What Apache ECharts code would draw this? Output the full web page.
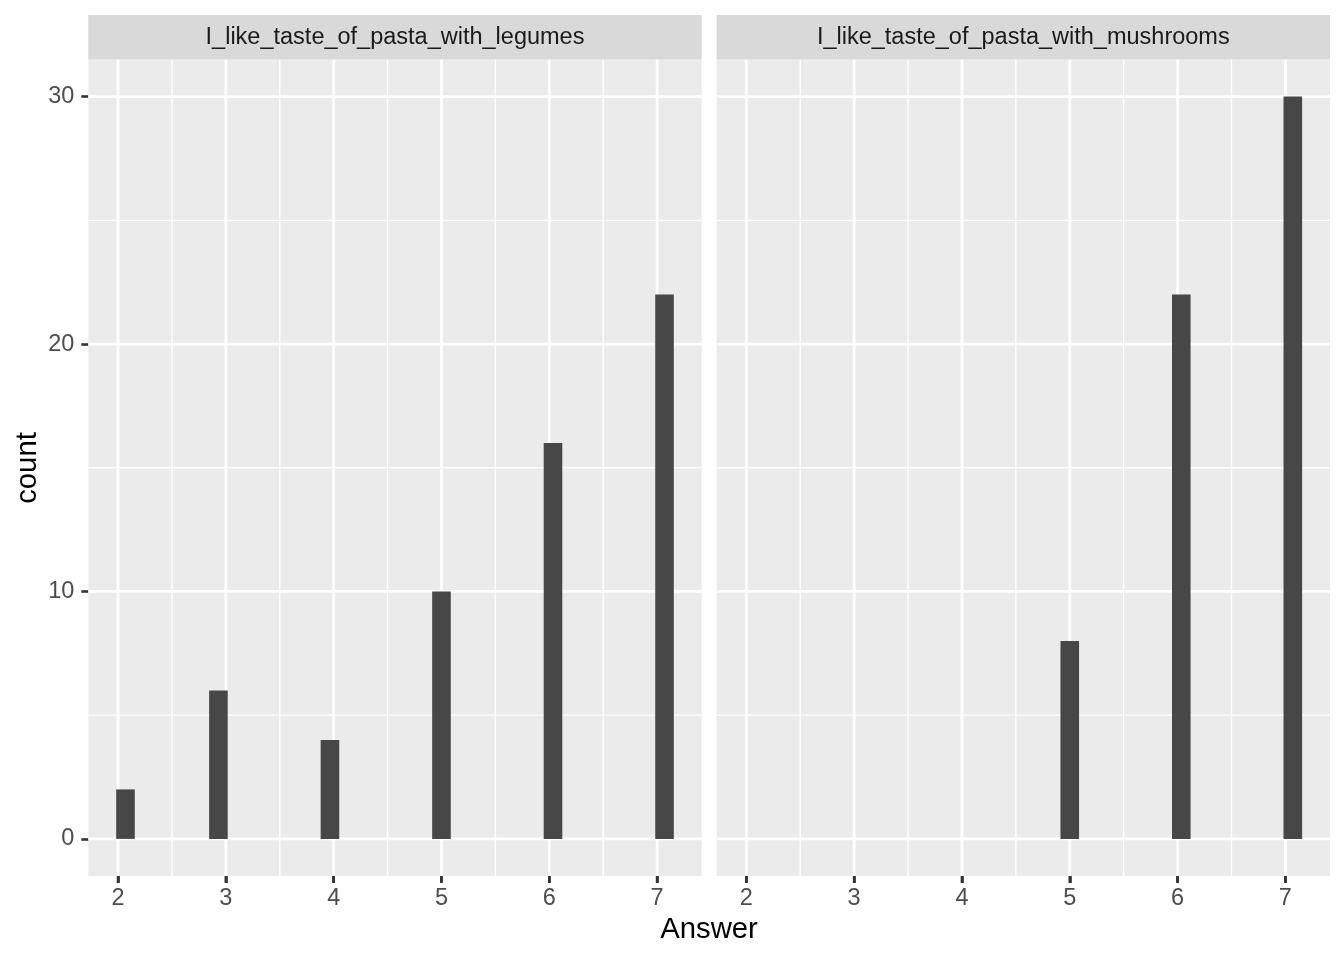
<!DOCTYPE html>
<html>
<head>
<meta charset="utf-8">
<script src="https://cdn.jsdelivr.net/npm/echarts@6.0.0/dist/echarts.min.js"></script>
<style>
html,body{margin:0;padding:0;background:#fff;}
#chart{width:1344px;height:960px;}
</style>
</head>
<body>
<div id="chart"></div>
<script>
// ---- data ----
const answers = [2, 3, 4, 5, 6, 7];
const panelTitles = ['I_like_taste_of_pasta_with_legumes', 'I_like_taste_of_pasta_with_mushrooms'];
const legumesCounts = [2, 6, 4, 10, 16, 22];
const mushroomsCounts = [0, 0, 0, 8, 22, 30];
const xTicks = [2, 3, 4, 5, 6, 7];
const xMinorTicks = [2.5, 3.5, 4.5, 5.5, 6.5];
const yTicks = [0, 10, 20, 30];
const yMinorTicks = [5, 15, 25];

// ---- ggplot-like histogram binning (bins = 30) ----
const bins = 30;
const xr = [Math.min(...answers), Math.max(...answers)];
const bw = (xr[1] - xr[0]) / (bins - 1);
const boundary = bw / 2;
const shift = Math.floor((xr[0] - boundary) / bw);
const origin = boundary + shift * bw;
const maxX = xr[1] + (1 - 1e-8) * bw;
const nBreaks = Math.floor((maxX - origin) / bw + 1e-9);
const lastBreak = origin + nBreaks * bw;
const span = lastBreak - origin;
const xMin = origin - 0.05 * span;
const xMax = lastBreak + 0.05 * span;
const yMaxData = Math.max(...legumesCounts, ...mushroomsCounts);
const yMin = -0.05 * yMaxData;
const yMax = yMaxData * 1.05;

function binData(counts) {
  const out = [];
  answers.forEach((a, i) => {
    if (counts[i] > 0) {
      const k = Math.ceil((a - origin) / bw - 1e-7) - 1;
      out.push([origin + k * bw, origin + (k + 1) * bw, counts[i]]);
    }
  });
  return out;
}

const panelLeft = [88.3, 716.6];
const panelW = 613.4;
const panelTop = 59.5;
const panelH = 816.5;
const stripTop = 15;
const stripH = 44.5;
const tickLen = 7;

const FONT = 'Liberation Sans, Arial, Helvetica, sans-serif';

const chart = echarts.init(document.getElementById('chart'), null, {renderer: 'canvas'});

function gridLineData() {
  const d = [];
  yMinorTicks.forEach(v => d.push([0, v, 0]));
  xMinorTicks.forEach(v => d.push([1, v, 0]));
  yTicks.forEach(v => d.push([0, v, 1]));
  xTicks.forEach(v => d.push([1, v, 1]));
  return d;
}

// white grid lines inside the panel, plus x tick marks hanging below it
function gridLinesSeries(idx) {
  return {
    type: 'custom',
    xAxisIndex: idx, yAxisIndex: idx,
    z: 1, silent: true, animation: false,
    clip: false,
    data: gridLineData(),
    encode: {x: -1, y: -1},
    renderItem: function (params, api) {
      const cs = params.coordSys;
      const horiz = api.value(0) === 0;
      const v = api.value(1);
      const major = api.value(2) === 1;
      if (horiz) {
        const y = api.coord([xMin, v])[1];
        return {
          type: 'line',
          shape: {x1: cs.x, y1: y, x2: cs.x + cs.width, y2: y},
          style: {stroke: '#FFFFFF', lineWidth: major ? 2.7 : 1.4}
        };
      }
      const x = api.coord([v, yMin])[0];
      const children = [{
        type: 'line',
        shape: {x1: x, y1: cs.y, x2: x, y2: cs.y + cs.height},
        style: {stroke: '#FFFFFF', lineWidth: major ? 2.7 : 1.4}
      }];
      if (major) {
        children.push({
          type: 'rect',
          shape: {x: x - 1.3, y: cs.y + cs.height, width: 2.6, height: tickLen},
          style: {fill: '#333333'}
        });
      }
      return {type: 'group', children: children};
    }
  };
}

function barSeries(idx, counts) {
  return {
    type: 'custom',
    xAxisIndex: idx, yAxisIndex: idx,
    z: 3,
    animation: false,
    data: binData(counts),
    encode: {x: [0, 1], y: 2},
    renderItem: function (params, api) {
      const p0 = api.coord([api.value(0), api.value(2)]);
      const p1 = api.coord([api.value(1), 0]);
      return {
        type: 'rect',
        shape: {x: p0[0], y: p0[1], width: p1[0] - p0[0], height: p1[1] - p0[1]},
        style: {fill: '#474747'}
      };
    }
  };
}

function xAxisCfg(idx) {
  return {
    type: 'value', gridIndex: idx, min: xMin, max: xMax, position: 'bottom',
    axisLine: {show: false, onZero: false},
    splitLine: {show: false},
    axisTick: {show: true, inside: false, customValues: xTicks, length: tickLen, lineStyle: {color: '#333333', width: 2.6}},
    axisLabel: {show: true, customValues: xTicks, color: '#4D4D4D', fontSize: 23.5, fontFamily: FONT, margin: 11}
  };
}

function yAxisCfg(idx) {
  return {
    type: 'value', gridIndex: idx, min: yMin, max: yMax, position: 'left',
    axisLine: {show: false, onZero: false},
    splitLine: {show: false},
    axisTick: {show: idx === 0, customValues: yTicks, length: tickLen, lineStyle: {color: '#333333', width: 2.6}},
    axisLabel: {show: idx === 0, customValues: yTicks, color: '#4D4D4D', fontSize: 23.5, fontFamily: FONT, margin: 14}
  };
}

const option = {
  backgroundColor: '#FFFFFF',
  animation: false,
  grid: [0, 1].map(i => ({
    left: panelLeft[i], top: panelTop, width: panelW, height: panelH,
    show: true, backgroundColor: '#EBEBEB', borderWidth: 0
  })),
  xAxis: [xAxisCfg(0), xAxisCfg(1)],
  yAxis: [yAxisCfg(0), yAxisCfg(1)],
  series: [
    gridLinesSeries(0), gridLinesSeries(1),
    barSeries(0, legumesCounts), barSeries(1, mushroomsCounts)
  ],
  graphic: [
    ...[0, 1].map(i => ({
      type: 'rect', left: panelLeft[i], top: stripTop, silent: true,
      shape: {width: panelW, height: stripH},
      style: {fill: '#D9D9D9'}
    })),
    ...[0, 1].map(i => ({
      type: 'text', silent: true,
      x: panelLeft[i] + panelW / 2, y: stripTop + stripH / 2,
      style: {text: panelTitles[i], fill: '#1A1A1A', font: '23.5px ' + FONT, align: 'center', verticalAlign: 'middle'}
    })),
    {
      type: 'text', silent: true, x: 709, y: 930,
      style: {text: 'Answer', fill: '#000000', font: '29.3px ' + FONT, align: 'center', verticalAlign: 'middle'}
    },
    {
      type: 'text', silent: true, x: 28, y: 468, rotation: Math.PI / 2,
      style: {text: 'count', fill: '#000000', font: '29.3px ' + FONT, align: 'center', verticalAlign: 'middle'}
    }
  ]
};
chart.setOption(option);
</script>
</body>
</html>
